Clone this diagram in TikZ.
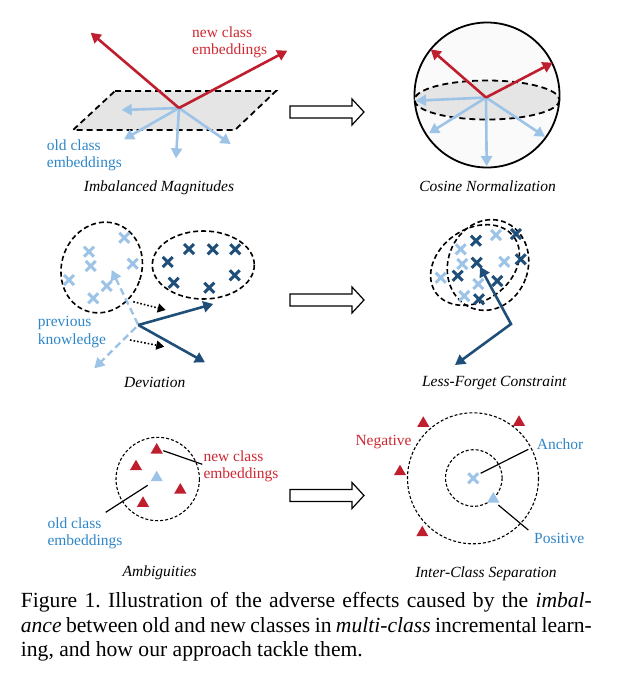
\documentclass[tikz,border=0pt]{standalone}
\usepackage{fontspec}
\setmainfont{Liberation Serif}
\usetikzlibrary{arrows.meta,shapes.geometric,shapes.misc}
\definecolor{newred}{RGB}{190,30,45}
\definecolor{oldblue}{RGB}{157,195,230}
\definecolor{deepblue}{RGB}{31,78,121}
\definecolor{labelblue}{RGB}{46,134,200}
\definecolor{labelred}{RGB}{205,40,50}
\def\hollowarrow(#1,#2){\draw[line width=1.2pt, fill=white] (#1,#2-6) -- (#1+62,#2-6) -- (#1+62,#2-13) -- (#1+74,#2) -- (#1+62,#2+13) -- (#1+62,#2+6) -- (#1,#2+6) -- cycle;}

\begin{document}
\begin{tikzpicture}[x=1pt, y=-1pt,
	vec/.style={line width=2.6pt, draw=#1, -{Triangle[length=10pt,width=11pt]}},
	xmark/.style={cross out, draw=#1, line width=3pt, minimum size=7pt, inner sep=0pt},
	tri/.style={regular polygon, regular polygon sides=3, fill=#1, minimum size=14pt, inner sep=0pt},
	lbl/.style={inner sep=0pt, align=left, font=\fontsize{15.5}{17.5}\selectfont},
	ttl/.style={inner sep=0pt, anchor=base, font=\fontsize{15.5}{17.5}\selectfont\itshape},
	bigdash/.style={line width=1.6pt, dash pattern=on 5pt off 3pt},
	smalldash/.style={line width=1.1pt, dash pattern=on 3pt off 2pt}]
	%%%%% START %%%%%
	\useasboundingbox (0,0) rectangle (621,694);
	
	% imbalanced magnitudes
	\draw[line width=1.8pt, dash pattern=on 6pt off 4pt, fill=black!10] (115,91) -- (276,91) -- (235,130) -- (73,130) -- cycle;
	\coordinate (o1) at (179,108);
	\draw[vec=oldblue] (o1) -- (121.7,110);
	\draw[vec=oldblue] (o1) -- (124,139.3);
	\draw[vec=oldblue] (o1) -- (176,158.3);
	\draw[vec=oldblue] (o1) -- (230.7,144);
	\draw[vec=newred] (o1) -- (90.7,32.7);
	\draw[vec=newred] (o1) -- (287.3,50.7);
	\node[lbl, text=labelred, anchor=base west] (new1) at (192,54.5) {new class\\embeddings};
	\node[lbl, text=labelblue, anchor=base west] (old1) at (46.7,167.5) {old class\\embeddings};
	\node[ttl] (t1) at (159,191.5) {Imbalanced Magnitudes};
	
	\hollowarrow(290,112)
	
	% cosine normalization
	\draw[line width=1.8pt, fill=black!2] (487,95) circle (72.5);
	\draw[line width=1.8pt, dash pattern=on 6pt off 4pt, fill=black!10] (487,100) ellipse (72.5 and 19.5);
	\coordinate (o2) at (486,97.5);
	\draw[vec=oldblue] (o2) -- (416,100.7);
	\draw[vec=oldblue] (o2) -- (429,133.3);
	\draw[vec=oldblue] (o2) -- (486.7,166);
	\draw[vec=oldblue] (o2) -- (545,136.7);
	\draw[vec=newred] (o2) -- (430.7,49.3);
	\draw[vec=newred] (o2) -- (552.7,62.7);
	\node[ttl] (t2) at (487.5,191) {Cosine Normalization};
	
	% deviation
	\draw[bigdash, rotate around={-20:(101.7,267.5)}] (101.7,267.5) ellipse (40 and 46);
	\draw[bigdash] (203.3,265) ellipse (51 and 34);
	\foreach \x/\y [count=\i] in {124.3/237.7, 89/251.7, 90.7/266, 132.7/263.7, 69/280, 106.7/286, 93.3/298.3}
		\node[xmark=oldblue] (pa\i) at (\x,\y) {};
	\foreach \x/\y [count=\i] in {189/249, 212.7/249.3, 235.3/249.3, 167.7/262, 234.7/275.3, 173.7/282.7, 209.3/287.7}
		\node[xmark=deepblue] (pb\i) at (\x,\y) {};
	\coordinate (o3) at (138.3,325);
	\draw[line width=2.4pt, draw=oldblue, dash pattern=on 7pt off 4pt, {Triangle[length=10pt,width=11pt]}-{Triangle[length=10pt,width=11pt]}] (111.7,270) -- (o3) -- (94.3,368.3);
	\draw[line width=1.6pt, dotted, -{Triangle[length=8pt,width=9pt]}] (133.3,301.7) -- (165.7,310);
	\draw[line width=1.6pt, dotted, -{Triangle[length=8pt,width=9pt]}] (130,340) -- (164.3,346.7);
	\draw[vec=deepblue] (o3) -- (213.3,304);
	\draw[vec=deepblue] (o3) -- (205,362.3);
	\node[lbl, text=labelblue, anchor=base west] (prev) at (37.7,344.2) {previous\\knowledge};
	\node[ttl] (t3) at (154.7,387.5) {Deviation};
	
	\hollowarrow(290,300)
	
	% less-forget constraint
	\draw[bigdash, rotate around={35:(475,265)}] (475,265) ellipse (48 and 36);
	\draw[bigdash, rotate around={-20:(488,265)}] (488,265) ellipse (40 and 46);
	\foreach \x/\y [count=\i] in {496/235, 460.7/249.3, 462.3/264, 504.3/261.7, 440.7/277.7, 478.3/284, 464.3/296}
		\node[xmark=oldblue] (qa\i) at (\x,\y) {};
	\foreach \x/\y [count=\i] in {476/240.7, 516/234, 520.7/259.3, 476.7/262.7, 457.7/275.7, 497.3/281, 479/299.3}
		\node[xmark=deepblue] (qb\i) at (\x,\y) {};
	\draw[line width=2.6pt, draw=deepblue, {Triangle[length=10pt,width=11pt]}-{Triangle[length=10pt,width=11pt]}] (480,266.7) -- (511,324) -- (455,365);
	\node[ttl] (t4) at (494.3,386.5) {Less-Forget Constraint};
	
	% ambiguities
	\draw[smalldash] (157.7,479) circle (41.7);
	\node[tri=newred] (r1) at (156.7,450) {};
	\node[tri=newred] (r2) at (136,466.7) {};
	\node[tri=newred] (r3) at (180.3,490) {};
	\node[tri=newred] (r4) at (143,503.3) {};
	\node[tri=oldblue] (b1) at (156.7,477.7) {};
	\draw[line width=1.2pt] (163.3,450.7) -- (202.3,464.3);
	\draw[line width=1.2pt] (147.7,485.3) -- (105.7,512.3);
	\node[lbl, text=labelred, anchor=base west] (new5) at (203.3,478.5) {new class\\embeddings};
	\node[lbl, text=labelblue, anchor=base west] (old5) at (47.3,545.5) {old class\\embeddings};
	\node[ttl] (t5) at (159.7,576.5) {Ambiguities};
	
	\hollowarrow(290,495.5)
	
	% inter-class separation
	\draw[smalldash] (473,478.3) circle (65.5);
	\draw[smalldash] (473.8,478) circle (28.3);
	\node[xmark=oldblue] (anc) at (473.3,478.3) {};
	\node[tri=oldblue] (pos) at (493.3,499) {};
	\node[tri=newred] (n1) at (423.3,423.3) {};
	\node[tri=newred] (n2) at (519,422.3) {};
	\node[tri=newred] (n3) at (400,471.7) {};
	\node[tri=newred] (n4) at (422.3,532.7) {};
	\draw[line width=1.2pt] (480.7,473.3) -- (528.3,449.3);
	\draw[line width=1.2pt] (498.3,505) -- (528.3,530);
	\node[lbl, text=labelred, anchor=base east] (neg) at (411.7,445.3) {Negative};
	\node[lbl, text=labelblue, anchor=base west] (anclbl) at (536.7,449) {Anchor};
	\node[lbl, text=labelblue, anchor=base west] (poslbl) at (534,543.7) {Positive};
	\node[ttl] (t6) at (486,577) {Inter-Class Separation};
	
	% caption
	\node[anchor=north west, inner sep=0pt, text width=571pt, align=justify, font=\fontsize{21.6}{24.3}\selectfont\frenchspacing] (cap) at (20.7,592.5)
		{Figure 1. Illustration of the adverse effects caused by the \textit{imbal-}\linebreak \textit{ance} between old and new classes in \textit{multi-class} incremental learn-\linebreak ing, and how our approach tackle them.};
	%%%%% END %%%%%
\end{tikzpicture}
\end{document}
